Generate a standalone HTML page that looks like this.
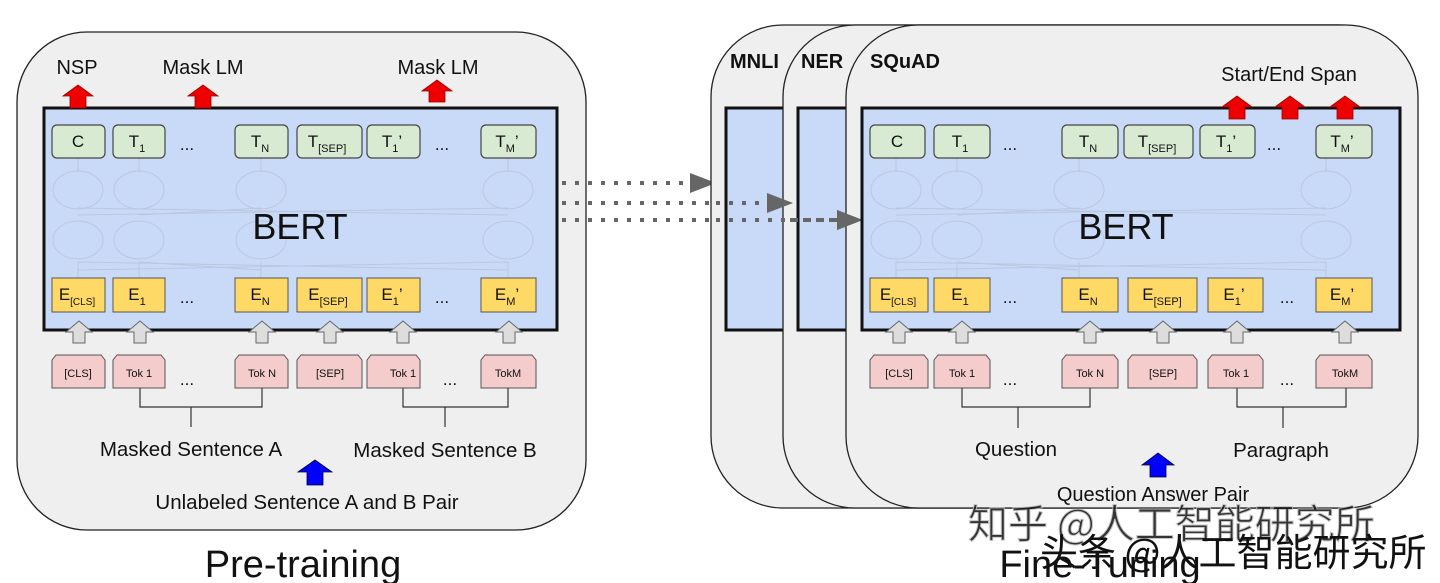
<!DOCTYPE html>
<html><head><meta charset="utf-8"><style>
html,body{margin:0;padding:0;background:#fff;width:1440px;height:583px;overflow:hidden}
svg{display:block}
text{font-family:"Liberation Sans",Arial,sans-serif;fill:#111}
</style></head><body>
<svg width="1440" height="583" viewBox="0 0 1440 583" xmlns="http://www.w3.org/2000/svg">
<defs>
<g id="net" stroke="#b9c6dc" stroke-width="1" fill="none" opacity="0.9">
  <ellipse cx="78" cy="190" rx="25" ry="19"/><ellipse cx="139" cy="190" rx="25" ry="19"/><ellipse cx="261" cy="190" rx="25" ry="19"/><ellipse cx="508" cy="190" rx="25" ry="19"/>
  <ellipse cx="78" cy="240" rx="25" ry="19"/><ellipse cx="139" cy="240" rx="25" ry="19"/><ellipse cx="261" cy="240" rx="25" ry="19"/><ellipse cx="508" cy="240" rx="25" ry="19"/>
  <path d="M78 215 L508 208 M78 208 L508 215 M139 215 L261 208 M78 262 L508 270 M78 270 L508 262 M139 262 L261 270 M78 172 V158 M139 172 V158 M261 172 V158 M508 172 V158 M78 278 V262 M139 278 V262 M261 278 V262 M508 278 V262"/>
</g>
</defs>

<!-- LEFT PANEL -->
<rect x="17" y="32" width="569" height="498" rx="70" fill="#efefef" stroke="#222" stroke-width="1.3"/>
<text x="77" y="74" font-size="20" text-anchor="middle">NSP</text>
<text x="203" y="74" font-size="20" text-anchor="middle">Mask LM</text>
<text x="438" y="74" font-size="20" text-anchor="middle">Mask LM</text>
<rect x="44" y="108" width="513" height="222" fill="#c9daf8" stroke="#111" stroke-width="3"/>
<g fill="#e00" stroke="#900" stroke-width="0.8">
<path d="M63 96 L78 85 L93 96 L86 96 L86 108 L70 108 L70 96Z"/>
<path d="M188 96 L203 85 L218 96 L211 96 L211 108 L195 108 L195 96Z"/>
<path d="M422 91 L437 80 L452 91 L445 91 L445 102 L429 102 L429 91Z"/>
</g>
<use href="#net"/>
<text x="300" y="239" font-size="36" text-anchor="middle">BERT</text>
<g fill="#d9ead3" stroke="#444" stroke-width="1.2">
<rect x="52" y="125" width="53" height="33" rx="5"/><rect x="113" y="125" width="52" height="33" rx="5"/>
<rect x="235" y="125" width="53" height="33" rx="5"/><rect x="297" y="125" width="65" height="33" rx="5"/>
<rect x="367" y="125" width="53" height="33" rx="5"/><rect x="481" y="125" width="55" height="33" rx="5"/>
</g>
<g font-size="17" text-anchor="middle">
<text x="78" y="147">C</text><text x="137" y="147">T<tspan font-size="11" dy="5">1</tspan></text>
<text x="260" y="147">T<tspan font-size="11" dy="5">N</tspan></text><text x="327" y="147">T<tspan font-size="11" dy="5">[SEP]</tspan></text>
<text x="392" y="147">T<tspan font-size="11" dy="5">1</tspan><tspan dy="-5">’</tspan></text><text x="507" y="147">T<tspan font-size="11" dy="5">M</tspan><tspan dy="-5">’</tspan></text>
<text x="187" y="150">...</text><text x="442" y="150">...</text>
</g>
<g fill="#ffd966" stroke="#555" stroke-width="1">
<rect x="52" y="278" width="53" height="34"/><rect x="113" y="278" width="52" height="34"/>
<rect x="235" y="278" width="53" height="34"/><rect x="297" y="278" width="65" height="34"/>
<rect x="367" y="278" width="53" height="34"/><rect x="481" y="278" width="55" height="34"/>
</g>
<g font-size="17" text-anchor="middle">
<text x="77" y="300">E<tspan font-size="10" dy="5">[CLS]</tspan></text><text x="137" y="300">E<tspan font-size="11" dy="5">1</tspan></text>
<text x="260" y="300">E<tspan font-size="11" dy="5">N</tspan></text><text x="328" y="300">E<tspan font-size="11" dy="5">[SEP]</tspan></text>
<text x="392" y="300">E<tspan font-size="11" dy="5">1</tspan><tspan dy="-5">’</tspan></text><text x="507" y="300">E<tspan font-size="11" dy="5">M</tspan><tspan dy="-5">’</tspan></text>
<text x="187" y="303">...</text><text x="442" y="303">...</text>
</g>
<g fill="#ddd" stroke="#666" stroke-width="1">
<path d="M66 332 L79 321 L92 332 L85 332 L85 343 L73 343 L73 332Z"/>
<path d="M127 332 L140 321 L153 332 L146 332 L146 343 L134 343 L134 332Z"/>
<path d="M249 332 L262 321 L275 332 L268 332 L268 343 L256 343 L256 332Z"/>
<path d="M317 332 L330 321 L343 332 L336 332 L336 343 L324 343 L324 332Z"/>
<path d="M390 332 L403 321 L416 332 L409 332 L409 343 L397 343 L397 332Z"/>
<path d="M496 332 L509 321 L522 332 L515 332 L515 343 L503 343 L503 332Z"/>
</g>
<g fill="#f4cccc" stroke="#555" stroke-width="1">
<path d="M56 355 H101 L105 360 V388 H52 V360Z"/><path d="M117 355 H161 L165 360 V388 H113 V360Z"/>
<path d="M239 355 H284 L288 360 V388 H235 V360Z"/><path d="M301 355 H358 L362 360 V388 H297 V360Z"/>
<path d="M371 355 H416 L420 360 V388 H367 V360Z"/><path d="M485 355 H532 L536 360 V388 H481 V360Z"/>
</g>
<g font-size="11" text-anchor="middle">
<text x="78" y="377">[CLS]</text><text x="139" y="377">Tok 1</text><text x="262" y="377">Tok N</text>
<text x="330" y="377">[SEP]</text><text x="403" y="377">Tok 1</text><text x="508" y="377">TokM</text>
</g>
<g font-size="17" text-anchor="middle"><text x="187" y="385">...</text><text x="450" y="385">...</text></g>
<g stroke="#333" stroke-width="1.2" fill="none">
<path d="M140 388 V407 H262 V388 M191 407 V427"/>
<path d="M403 388 V407 H508 V388 M445 407 V427"/>
</g>
<text x="191" y="456" font-size="20.5" text-anchor="middle">Masked Sentence A</text>
<text x="445" y="457" font-size="20.5" text-anchor="middle">Masked Sentence B</text>
<path d="M298 472 L315 460 L332 472 L323 472 L323 485 L307 485 L307 472Z" fill="#00f" stroke="#003" stroke-width="0.8"/>
<text x="307" y="509" font-size="20.5" text-anchor="middle">Unlabeled Sentence A and B Pair</text>
<text x="303" y="577" font-size="38" text-anchor="middle">Pre-training</text>

<!-- dotted arrows -->
<g stroke="#666" stroke-width="4" stroke-dasharray="4 9">
<line x1="562" y1="183" x2="692" y2="183"/><line x1="562" y1="203" x2="768" y2="203"/><line x1="562" y1="220" x2="838" y2="220"/>
</g>
<g fill="#666"><path d="M690 173 L716 183 L690 193Z"/><path d="M767 193 L793 203 L767 213Z"/><path d="M837 210 L863 220 L837 230Z"/></g>

<!-- RIGHT PANELS -->
<rect x="711" y="25" width="700" height="483" rx="72" fill="#efefef" stroke="#222" stroke-width="1.3"/>
<rect x="726" y="108" width="70" height="222" fill="#c9daf8" stroke="#111" stroke-width="3"/>
<text x="730" y="68" font-size="20" font-weight="bold">MNLI</text>
<rect x="783" y="25" width="632" height="483" rx="72" fill="#efefef" stroke="#222" stroke-width="1.3"/>
<rect x="798" y="108" width="70" height="222" fill="#c9daf8" stroke="#111" stroke-width="3"/>
<text x="801" y="68" font-size="20" font-weight="bold">NER</text>
<g stroke="#666" stroke-width="4" stroke-dasharray="4 9"><line x1="716" y1="203" x2="768" y2="203"/><line x1="716" y1="220" x2="838" y2="220"/></g>
<g fill="#666"><path d="M767 193 L793 203 L767 213Z"/><path d="M837 210 L863 220 L837 230Z"/></g>
<rect x="846" y="25" width="572" height="483" rx="72" fill="#efefef" stroke="#222" stroke-width="1.3"/>
<g stroke="#666" stroke-width="4" stroke-dasharray="4 9"><line x1="790" y1="220" x2="838" y2="220"/></g>
<path d="M837 210 L863 220 L837 230Z" fill="#666"/>
<text x="870" y="68" font-size="20" font-weight="bold">SQuAD</text>
<text x="1289" y="81" font-size="20" text-anchor="middle">Start/End Span</text>
<rect x="862" y="108" width="538" height="222" fill="#c9daf8" stroke="#111" stroke-width="3"/>
<g fill="#e00" stroke="#900" stroke-width="0.8">
<path d="M1222 107 L1237 96 L1252 107 L1245 107 L1245 119 L1229 119 L1229 107Z"/>
<path d="M1275 107 L1290 96 L1305 107 L1298 107 L1298 119 L1282 119 L1282 107Z"/>
<path d="M1330 107 L1345 96 L1360 107 L1353 107 L1353 119 L1337 119 L1337 107Z"/>
</g>
<use href="#net" transform="translate(818,0)"/>
<text x="1126" y="239" font-size="36" text-anchor="middle">BERT</text>
<g fill="#d9ead3" stroke="#444" stroke-width="1.2">
<rect x="870" y="125" width="55" height="33" rx="5"/><rect x="934" y="125" width="56" height="33" rx="5"/>
<rect x="1062" y="125" width="56" height="33" rx="5"/><rect x="1124" y="125" width="69" height="33" rx="5"/>
<rect x="1200" y="125" width="55" height="33" rx="5"/><rect x="1316" y="125" width="56" height="33" rx="5"/>
</g>
<g font-size="17" text-anchor="middle">
<text x="897" y="147">C</text><text x="960" y="147">T<tspan font-size="11" dy="5">1</tspan></text>
<text x="1088" y="147">T<tspan font-size="11" dy="5">N</tspan></text><text x="1157" y="147">T<tspan font-size="11" dy="5">[SEP]</tspan></text>
<text x="1226" y="147">T<tspan font-size="11" dy="5">1</tspan><tspan dy="-5">’</tspan></text><text x="1342" y="147">T<tspan font-size="11" dy="5">M</tspan><tspan dy="-5">’</tspan></text>
<text x="1010" y="150">...</text><text x="1274" y="150">...</text>
</g>
<g fill="#ffd966" stroke="#555" stroke-width="1">
<rect x="870" y="278" width="58" height="34"/><rect x="934" y="278" width="56" height="34"/>
<rect x="1062" y="278" width="56" height="34"/><rect x="1128" y="278" width="69" height="34"/>
<rect x="1208" y="278" width="55" height="34"/><rect x="1316" y="278" width="56" height="34"/>
</g>
<g font-size="17" text-anchor="middle">
<text x="898" y="300">E<tspan font-size="10" dy="5">[CLS]</tspan></text><text x="960" y="300">E<tspan font-size="11" dy="5">1</tspan></text>
<text x="1088" y="300">E<tspan font-size="11" dy="5">N</tspan></text><text x="1162" y="300">E<tspan font-size="11" dy="5">[SEP]</tspan></text>
<text x="1234" y="300">E<tspan font-size="11" dy="5">1</tspan><tspan dy="-5">’</tspan></text><text x="1342" y="300">E<tspan font-size="11" dy="5">M</tspan><tspan dy="-5">’</tspan></text>
<text x="1010" y="303">...</text><text x="1287" y="303">...</text>
</g>
<g fill="#ddd" stroke="#666" stroke-width="1">
<path d="M886 332 L899 321 L912 332 L905 332 L905 343 L893 343 L893 332Z"/>
<path d="M949 332 L962 321 L975 332 L968 332 L968 343 L956 343 L956 332Z"/>
<path d="M1077 332 L1090 321 L1103 332 L1096 332 L1096 343 L1084 343 L1084 332Z"/>
<path d="M1150 332 L1163 321 L1176 332 L1169 332 L1169 343 L1157 343 L1157 332Z"/>
<path d="M1224 332 L1237 321 L1250 332 L1243 332 L1243 343 L1231 343 L1231 332Z"/>
<path d="M1332 332 L1345 321 L1358 332 L1351 332 L1351 343 L1339 343 L1339 332Z"/>
</g>
<g fill="#f4cccc" stroke="#555" stroke-width="1">
<path d="M874 355 H924 L928 360 V388 H870 V360Z"/><path d="M938 355 H986 L990 360 V388 H934 V360Z"/>
<path d="M1066 355 H1114 L1118 360 V388 H1062 V360Z"/><path d="M1132 355 H1193 L1197 360 V388 H1128 V360Z"/>
<path d="M1212 355 H1259 L1263 360 V388 H1208 V360Z"/><path d="M1320 355 H1368 L1372 360 V388 H1316 V360Z"/>
</g>
<g font-size="11" text-anchor="middle">
<text x="899" y="377">[CLS]</text><text x="962" y="377">Tok 1</text><text x="1090" y="377">Tok N</text>
<text x="1163" y="377">[SEP]</text><text x="1236" y="377">Tok 1</text><text x="1345" y="377">TokM</text>
</g>
<g font-size="17" text-anchor="middle"><text x="1010" y="385">...</text><text x="1287" y="385">...</text></g>
<g stroke="#333" stroke-width="1.2" fill="none">
<path d="M962 388 V407 H1090 V388 M1018 407 V428"/>
<path d="M1237 388 V407 H1346 V388 M1283 407 V428"/>
</g>
<text x="1016" y="456" font-size="20.5" text-anchor="middle">Question</text>
<text x="1281" y="457" font-size="20.5" text-anchor="middle">Paragraph</text>
<path d="M1142 465 L1158 453 L1174 465 L1166 465 L1166 477 L1150 477 L1150 465Z" fill="#00f" stroke="#003" stroke-width="0.8"/>
<text x="1153" y="501" font-size="20" text-anchor="middle">Question Answer Pair</text>
<text x="1100" y="577" font-size="38" text-anchor="middle">Fine-Tuning</text>
<text x="968" y="538" font-size="40" fill="#ffffff" stroke="#bbb" stroke-width="1" style="font-family:'Noto Sans CJK SC',sans-serif" opacity="0.85">知乎 @人工智能研究所</text>
<text x="1040" y="566" font-size="38" style="font-family:'Noto Sans CJK SC',sans-serif;fill:#111">头条 @人工智能研究所</text>
</svg>
</body></html>
